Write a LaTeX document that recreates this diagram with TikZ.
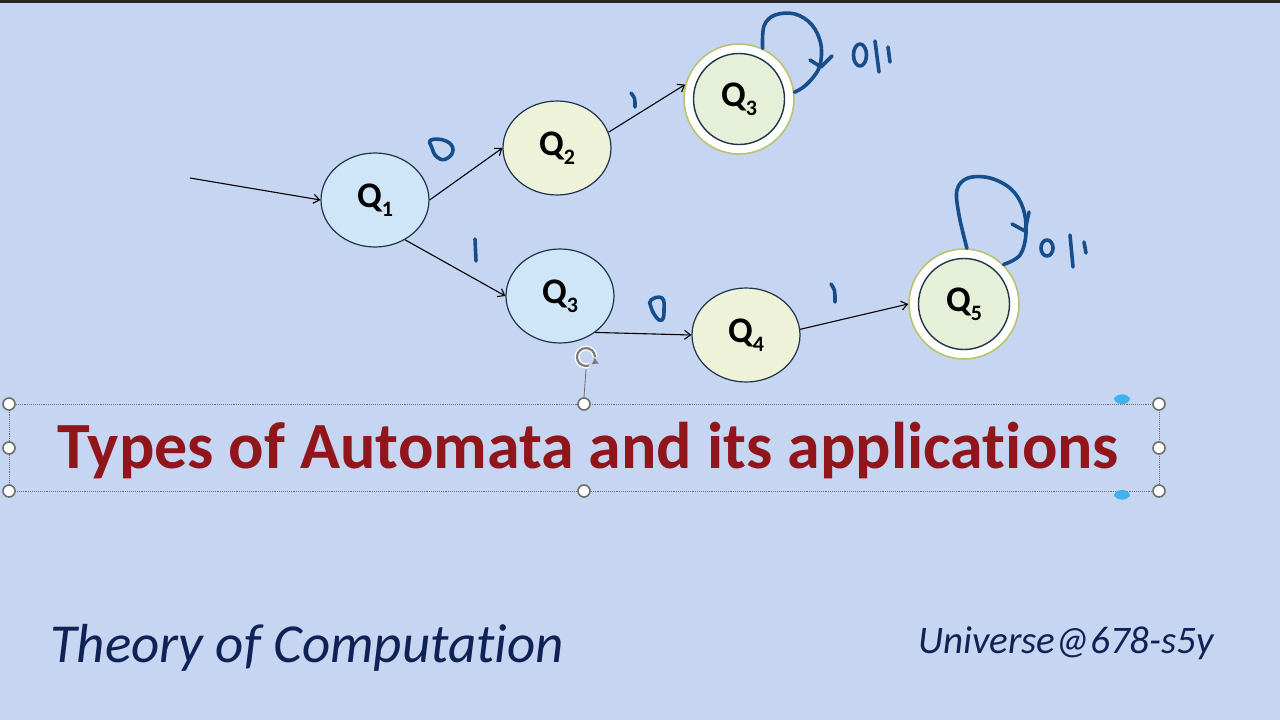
\documentclass[tikz,border=0pt]{standalone}
\usepackage{fontspec}
\setmainfont{Carlito}[Ligatures={NoCommon}]
\usetikzlibrary{shapes.geometric,arrows.meta}
\definecolor{bgc}{RGB}{198,213,241}
\definecolor{qblue}{RGB}{206,230,248}
\definecolor{qcream}{RGB}{238,242,216}
\definecolor{qgreen}{RGB}{230,240,216}
\definecolor{ringc}{RGB}{184,196,110}
\definecolor{edgec}{RGB}{30,52,75}
\definecolor{handc}{RGB}{22,78,140}
\definecolor{titlec}{RGB}{145,22,28}
\definecolor{navyc}{RGB}{14,34,86}
\definecolor{grayc}{RGB}{110,110,110}
\definecolor{selblue}{RGB}{62,178,236}
\newcommand{\qlab}[1]{{\bfseries\fontsize{36}{36}\selectfont Q}\raisebox{-9pt}{\bfseries\fontsize{22}{22}\selectfont #1}}
\tikzset{
  stell/.style={ellipse, draw=edgec, line width=1.2pt, minimum width=108pt, minimum height=94pt, inner sep=0pt},
  ring/.style={circle, draw=ringc, fill=white, line width=1.6pt, minimum size=110pt, inner sep=0pt},
  inner/.style={circle, draw=edgec, fill=qgreen, line width=1.4pt, minimum size=91pt, inner sep=0pt},
  trans/.style={draw=black, line width=1.1pt, -{Straight Barb[length=6pt,width=9pt]}},
  hand/.style={draw=handc, line width=3.6pt, line cap=round, line join=round},
  handle/.style={circle, draw=grayc, fill=white, line width=1.6pt, minimum size=12pt, inner sep=0pt},
}
\begin{document}
\begin{tikzpicture}[x=1pt,y=-1pt]
\useasboundingbox (0,0) rectangle (1280,720);
\fill[bgc] (0,0) rectangle (1280,720);
\fill[black!85] (0,0) rectangle (1280,3);

% states
\node[stell, fill=qblue] (q1) at (375,200) {\qlab{1}};
\node[stell, fill=qcream] (q2) at (557,148) {\qlab{2}};
\node[ring] (q3o) at (739,99) {};
\node[inner] (q3t) at (739,99) {\qlab{3}};
\node[stell, fill=qblue] (q3) at (560,296) {\qlab{3}};
\node[stell, fill=qcream] (q4) at (746,335) {\qlab{4}};
\node[ring] (q5o) at (964,304) {};
\node[inner] (q5) at (964,304) {\qlab{5}};

% transitions
\coordinate (start) at (190,178);
\draw[trans] (start) -- (q1.west);
\draw[trans] (q1.east) -- (q2.west);
\draw[trans] (q2.17) -- (q3o.165);
\draw[trans] (q1.-53) -- (q3.west);
\draw[trans] (q3.-46) -- (q4.west);
\draw[trans] (q4.6) -- (q5o.west);

% handwritten labels
\draw[hand] plot[smooth cycle, tension=0.8] coordinates {(431,140) (446,141) (453,150) (446,159) (437,157) (432,148)};
\draw[hand] (631,93) .. controls (635,98) .. (635,107);
\draw[hand] (475,239) -- (476,261);
\draw[hand] plot[smooth cycle, tension=0.8] coordinates {(651,300) (662,298) (664,310) (662,320) (656,317) (651,307)};
\draw[hand] (831,284) .. controls (835,290) .. (835,302);

% loop on Q3
\draw[hand] plot[smooth, tension=0.6] coordinates {(q3o.65) (764,26) (775,15) (795,14) (812,25) (821,45) (819,68) (806,85) (q3o.7)};
\draw[hand] (810,60) -- (821,67) -- (832,56);
\draw[hand] (860,55) ellipse [x radius=6.5, y radius=11];
\draw[hand] (875,41) -- (879,72);
\draw[hand] (888,47) -- (890,62);

% loop on Q5
\draw[hand] plot[smooth, tension=0.6] coordinates {(q5o.87) (959,215) (957,190) (968,178) (990,178) (1011,189) (1023,208) (1026,233) (1020,255) (q5o.45)};
\draw[hand] (1012,224) -- (1025,231) -- (1029,212);
\draw[hand] (1047,248) ellipse [x radius=6, y radius=8];
\draw[hand] (1070,235) -- (1073,267);
\draw[hand] (1084,242) -- (1086,253);

% title selection box
\draw[grayc, densely dotted, line width=0.9pt] (9,404) rectangle (1159,491);
\node[circle, minimum size=24pt, inner sep=0pt] (rot) at (586,357) {};
\draw[white, line width=5pt] (rot.center) ++(70:9) arc[start angle=70, end angle=360, radius=9];
\draw[grayc!90, line width=2.2pt] (rot.center) ++(70:9) arc[start angle=70, end angle=360, radius=9];
\draw[grayc!90, line width=1.5pt, -{Latex[length=6pt,width=8pt]}] (rot.center) ++(12:9) -- ++(-95:1);
\node[handle] (htl) at (9,404) {};
\node[handle] (htm) at (584,404) {};
\node[handle] (htr) at (1159,404) {};
\node[handle] (hml) at (9,448) {};
\node[handle] (hmr) at (1159,448) {};
\node[handle] (hbl) at (9,491) {};
\node[handle] (hbm) at (584,491) {};
\node[handle] (hbr) at (1159,491) {};
\draw[grayc, line width=0.8pt] (rot.south) -- (htm.north);
\fill[selblue] (1114,398) .. controls (1114,406) and (1130,406) .. (1130,398) .. controls (1126,393) and (1118,393) .. cycle;
\fill[selblue] (1114,496) .. controls (1114,488) and (1130,488) .. (1130,496) .. controls (1126,501) and (1118,501) .. cycle;

\node[text=titlec, font=\bfseries\fontsize{66}{66}\selectfont, anchor=base] (title) at (588,468) {Types of Automata and its applications};

\node[text=navyc, font=\itshape\fontsize{55}{55}\selectfont, anchor=base west, inner sep=0pt] (toc) at (50,662) {Theory of Computation};
\node[text=navyc, font=\itshape\fontsize{39}{39}\selectfont, anchor=base west, inner sep=0pt] (univ) at (918,653) {Universe@678-s5y};
\end{tikzpicture}
\end{document}
